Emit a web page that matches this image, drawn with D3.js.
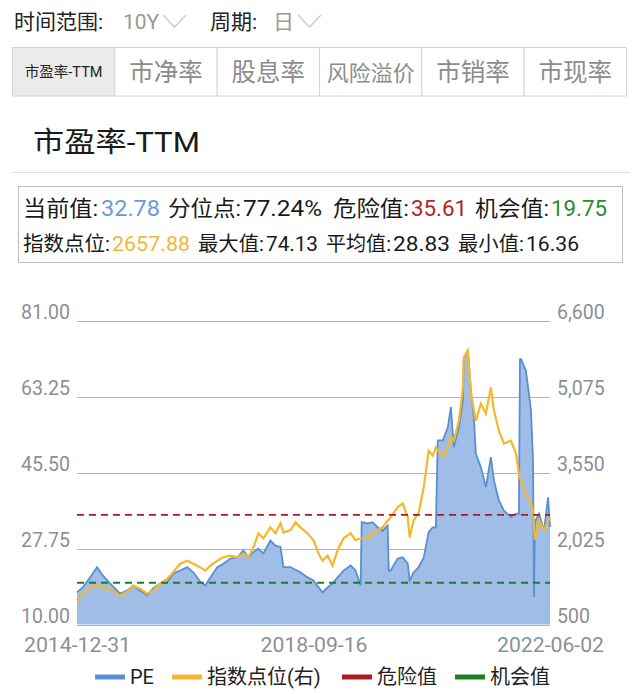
<!DOCTYPE html>
<html>
<head>
<meta charset="utf-8">
<script src="https://cdn.jsdelivr.net/npm/d3@7"></script>
<style>
  body { margin: 0; background: #fff; }
  svg { display: block; font-family: Roboto, "Noto Sans CJK SC", sans-serif; }
</style>
</head>
<body>
<svg id="page" width="640" height="694"></svg>
<script>
const dates = [
  '2014-12-31','2015-02-03','2015-03-16','2015-04-25','2015-05-29','2015-07-08','2015-09-04','2015-10-14',
  '2015-11-18','2015-12-28','2016-02-06','2016-03-11','2016-04-21','2016-05-31','2016-07-04','2016-08-13',
  '2016-09-23','2016-10-27','2016-12-06','2017-01-04','2017-02-02','2017-03-14','2017-04-17','2017-05-28',
  '2017-07-07','2017-08-10','2017-09-08','2017-10-07','2017-11-04','2017-12-03','2018-01-12','2018-02-10',
  '2018-03-11','2018-03-28','2018-05-07','2018-06-05','2018-07-03','2018-08-13','2018-09-16','2018-10-15',
  '2018-11-07','2018-12-06','2019-01-03','2019-02-01','2019-03-07','2019-04-17','2019-05-15','2019-06-13',
  '2019-06-19','2019-07-23','2019-08-21','2019-09-19','2019-10-17','2019-11-15','2019-11-21','2019-12-02',
  '2020-01-11','2020-02-09','2020-03-09','2020-03-20','2020-04-12','2020-05-11','2020-06-09','2020-07-07',
  '2020-07-30','2020-08-17','2020-08-28','2020-09-26','2020-10-25','2020-11-11','2020-11-28','2020-12-27',
  '2021-01-19','2021-01-24','2021-02-16','2021-03-06','2021-03-23','2021-04-03','2021-05-02','2021-05-31',
  '2021-06-28','2021-07-16','2021-08-13','2021-09-11','2021-10-21','2021-11-19','2021-12-06','2021-12-12',
  '2021-12-18','2022-01-15','2022-02-13','2022-02-25','2022-03-02','2022-03-08','2022-03-31','2022-04-29',
  '2022-05-22','2022-06-02'
]

const peValues = [
  17.5, 18.7, 21.0, 23.4, 21.4, 19.6, 17.2, 17.9,
  19.1, 17.9, 16.8, 18.4, 19.6, 19.9, 21.9, 22.6,
  23.4, 22.2, 20.0, 19.1, 21.0, 23.4, 24.2, 25.4,
  25.7, 27.3, 25.7, 26.9, 27.7, 26.6, 29.6, 28.4,
  28.1, 23.4, 23.4, 22.8, 22.2, 21.0, 20.3, 18.7,
  17.5, 18.7, 19.6, 21.0, 22.6, 23.8, 22.6, 19.1,
  33.9, 33.6, 33.9, 32.7, 31.9, 33.1, 22.6, 22.6,
  25.4, 25.7, 24.2, 20.3, 22.2, 23.4, 25.7, 31.6,
  32.7, 32.7, 53.0, 53.0, 56.1, 60.8, 51.4, 56.1,
  62.3, 72.0, 74.1, 64.6, 58.4, 49.9, 46.7, 42.1,
  49.1, 43.6, 39.0, 36.6, 35.1, 35.9, 35.9, 72.0,
  72.0, 69.3, 60.0, 48.0, 16.4, 34.0, 35.9, 31.9,
  39.7, 32.78
]

const indexValues = [
  980, 1120, 1250, 1280, 1250, 1220, 1080, 1150,
  1280, 1220, 1120, 1180, 1320, 1420, 1550, 1720,
  1780, 1720, 1650, 1580, 1680, 1780, 1850, 1880,
  1850, 1920, 1850, 2050, 2330, 2230, 2450, 2330,
  2530, 2350, 2390, 2550, 2450, 2330, 2190, 1920,
  1780, 1880, 1680, 1985, 2230, 2330, 2190, 2230,
  2230, 2230, 2330, 2390, 2450, 2590, 2600, 2650,
  2850, 2930, 2650, 2250, 2590, 2750, 3260, 3990,
  3890, 4060, 4000, 3860, 4060, 4260, 4190, 4590,
  5260, 5860, 6000, 5130, 4800, 4590, 4930, 4730,
  5260, 4800, 4390, 4130, 4190, 3930, 3520, 3450,
  3390, 3120, 2920, 2800, 2500, 2200, 2590, 2390,
  2590, 2657.88
]

const leftTicks = [10, 27.75, 45.5, 63.25, 81]
const rightTicks = [500, 2025, 3550, 5075, 6600]
const xTickLabels = ['2014-12-31', '2018-09-16', '2022-06-02']
const dangerValue = 35.61
const chanceValue = 19.75

const tabNames = ['市盈率-TTM', '市净率', '股息率', '风险溢价', '市销率', '市现率']
// [text, colour]
const infoLine1 = [
  ['当前值:', null], ['32.78', '#6b9bd1'], ['分位点:', null], ['77.24%', null],
  ['危险值:', null], ['35.61', '#b0242a'], ['机会值:', null], ['19.75', '#2a8a2e']
]
const infoLine2 = [
  ['指数点位:', null], ['2657.88', '#f1b83a'], ['最大值:', null], ['74.13', null],
  ['平均值:', null], ['28.83', null], ['最小值:', null], ['16.36', null]
]
const legendItems = [
  ['PE', '#5a8fd3'], ['指数点位(右)', '#f3b82b'], ['危险值', '#a81e22'], ['机会值', '#1e7e24']
]

// horizontal extents of each info segment [start, end]
const infoPos1 = [[23, 98], [101, 160], [168, 241], [243, 322], [333, 409], [411, 467], [475, 549], [551, 607]]
const infoPos2 = [[23, 110], [112, 190], [198, 264], [266, 318], [326, 391], [393, 450], [458, 524], [526, 579]]

const svg = d3.select('#page')
const parse = d3.timeParse('%Y-%m-%d')
const series = dates.map((d, i) => ({ date: parse(d), pe: peValues[i], idx: indexValues[i] }))

// ---- header controls ----
svg.append('text').attr('x', 14).attr('y', 29).attr('font-size', 21).attr('fill', '#222').text('时间范围:')
svg.append('text').attr('x', 123).attr('y', 29).attr('font-size', 21).attr('fill', '#999').text('10Y')
svg.append('text').attr('x', 210).attr('y', 29).attr('font-size', 21).attr('fill', '#222').text('周期:')
svg.append('text').attr('x', 273).attr('y', 29).attr('font-size', 21).attr('fill', '#999').text('日')
;[163, 298].forEach((cx) => {
  svg.append('path')
    .attr('d', `M${cx},15 L${cx + 11.5},27 L${cx + 23},15`)
    .attr('fill', 'none').attr('stroke', '#cfcfcf').attr('stroke-width', 1.6)
})

// ---- tabs ----
const tabX = d3.scaleBand().domain(tabNames).range([12, 626])
const tabs = svg.append('g')
tabs.selectAll('rect').data(tabNames).enter().append('rect')
  .attr('x', (d) => tabX(d) + 0.5).attr('y', 47.5)
  .attr('width', tabX.bandwidth()).attr('height', 48.5)
  .attr('fill', (_, i) => i === 0 ? '#ebebeb' : '#fff')
  .attr('stroke', '#d4d4d4')
tabs.selectAll('text').data(tabNames).enter().append('text')
  .attr('x', (d) => tabX(d) + tabX.bandwidth() / 2 + 0.5)
  .attr('y', (_, i) => i === 0 ? 77 : 81)
  .attr('text-anchor', 'middle')
  .attr('font-size', (d, i) => i === 0 ? 14.5 : d.length > 3 ? 22 : 24.5)
  .attr('fill', (_, i) => i === 0 ? '#222' : '#8c8c8c')
  .text((d) => d)

// ---- title ----
svg.append('text').attr('x', 33).attr('y', 152).attr('font-size', 28).attr('fill', '#1a1a1a')
  .attr('textLength', 167).attr('lengthAdjust', 'spacingAndGlyphs').text('市盈率-TTM')
svg.append('line').attr('x1', 12).attr('x2', 630).attr('y1', 172.5).attr('y2', 172.5)
  .attr('stroke', '#dedede')

// ---- info box ----
svg.append('rect').attr('x', 18.5).attr('y', 186.5).attr('width', 604).attr('height', 76)
  .attr('fill', '#fff').attr('stroke', '#bdbdbd')
function infoLine(parts, pos, y, size) {
  parts.forEach(([s, c], i) => {
    svg.append('text').attr('x', pos[i][0]).attr('y', y).attr('font-size', size)
      .attr('fill', c || '#1a1a1a')
      .attr('textLength', pos[i][1] - pos[i][0]).attr('lengthAdjust', 'spacingAndGlyphs')
      .text(s)
  })
}
infoLine(infoLine1, infoPos1, 216, 21.5)
infoLine(infoLine2, infoPos2, 251, 20.5)

// ---- chart ----
const plotLeft = 77, plotRight = 550, plotTop = 320.5, plotBottom = 624.5
const x = d3.scaleTime().domain([series[0].date, series[series.length - 1].date]).range([plotLeft, plotRight])
const yL = d3.scaleLinear().domain([10, 81]).range([plotBottom, plotTop])
const yR = d3.scaleLinear().domain([500, 6600]).range([plotBottom, plotTop])

const grid = svg.append('g')
grid.selectAll('line').data(leftTicks).enter().append('line')
  .attr('x1', plotLeft).attr('x2', plotRight)
  .attr('y1', (d) => Math.round(yL(d)) + 0.5).attr('y2', (d) => Math.round(yL(d)) + 0.5)
  .attr('stroke', '#b4b4b4').attr('stroke-width', 1)

svg.append('path').datum(series)
  .attr('d', d3.area().x((d) => x(d.date)).y0(plotBottom).y1((d) => yL(d.pe)))
  .attr('fill', '#9fbde6')
svg.append('path').datum(series)
  .attr('d', d3.line().x((d) => x(d.date)).y((d) => yL(d.pe)))
  .attr('fill', 'none').attr('stroke', '#5a8fd3').attr('stroke-width', 1.8)
svg.append('path').datum(series)
  .attr('d', d3.line().x((d) => x(d.date)).y((d) => yR(d.idx)))
  .attr('fill', 'none').attr('stroke', '#f3b82b').attr('stroke-width', 2.2)

svg.append('line').attr('x1', plotLeft).attr('x2', plotRight)
  .attr('y1', yL(dangerValue)).attr('y2', yL(dangerValue))
  .attr('stroke', '#a81e22').attr('stroke-width', 1.8).attr('stroke-dasharray', '7,5')
svg.append('line').attr('x1', plotLeft).attr('x2', plotRight)
  .attr('y1', yL(chanceValue)).attr('y2', yL(chanceValue))
  .attr('stroke', '#1e7e24').attr('stroke-width', 1.8).attr('stroke-dasharray', '7,5')

const leftAxis = d3.axisLeft(yL).tickValues(leftTicks).tickFormat(d3.format('.2f')).tickSize(0).tickPadding(7)
const rightAxis = d3.axisRight(yR).tickValues(rightTicks).tickFormat(d3.format(',')).tickSize(0).tickPadding(7)
;[[leftAxis, plotLeft], [rightAxis, plotRight]].forEach(([ax, pos]) => {
  const g = svg.append('g').attr('transform', `translate(${pos},0)`).call(ax)
  g.select('.domain').remove()
  g.selectAll('text').attr('font-size', 19.5).attr('fill', '#8a9096')
    .attr('font-family', 'Roboto, sans-serif').attr('dy', '-0.12em')
})

const xAxis = d3.axisBottom(x)
  .tickValues(xTickLabels.map(parse))
  .tickFormat(d3.timeFormat('%Y-%m-%d')).tickSize(0).tickPadding(13)
const gx = svg.append('g').attr('transform', `translate(0,${plotBottom})`).call(xAxis)
gx.select('.domain').remove()
gx.selectAll('text').attr('font-size', 20).attr('fill', '#8a9096').attr('font-family', 'Roboto, sans-serif')
  .attr('textLength', 107).attr('lengthAdjust', 'spacingAndGlyphs')
  .attr('x', -53.5).attr('text-anchor', 'start')

// ---- legend ----
const legendX = [95, 172, 342, 455]
const lg = svg.append('g')
legendItems.forEach(([name, color], i) => {
  lg.append('line').attr('x1', legendX[i]).attr('x2', legendX[i] + 30)
    .attr('y1', 677).attr('y2', 677).attr('stroke', color).attr('stroke-width', 5)
  lg.append('text').attr('x', legendX[i] + 35).attr('y', 684)
    .attr('font-size', 20).attr('fill', '#222').text(name)
})
</script>
</body>
</html>
